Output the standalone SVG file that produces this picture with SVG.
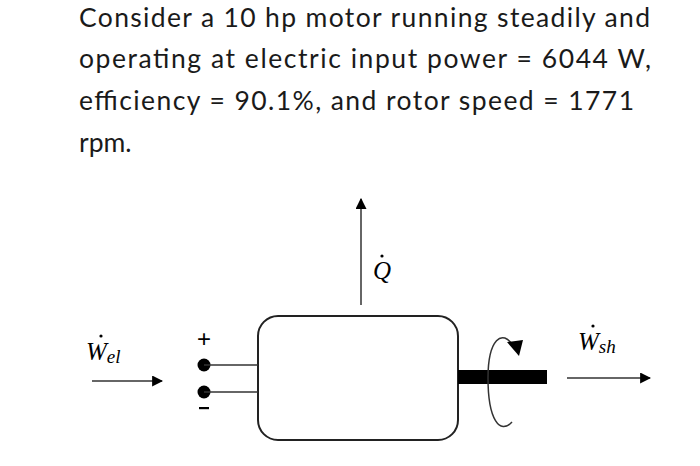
<svg xmlns="http://www.w3.org/2000/svg" width="700" height="466" viewBox="0 0 700 466">
<defs>
<marker id="ah" viewBox="0 0 10 10" refX="9" refY="5" markerWidth="11" markerHeight="11" markerUnits="userSpaceOnUse" orient="auto"><path d="M0,0 L10,5 L0,10 z" fill="#000"/></marker>
<style>
.t{font-family:Lato,"Liberation Sans",sans-serif;font-size:26.5px;fill:#1a1a1a}
.m{font-family:"Liberation Serif",serif;font-style:italic;font-size:25px;fill:#000}
.s{font-family:"Liberation Serif",serif;font-style:italic;font-size:19px}
.ln{stroke:#333;stroke-width:1.5;fill:none}
</style>
</defs>
<rect width="700" height="466" fill="#fff"/>
<g id="question">
<text class="t" x="79" y="27" textLength="571">Consider a 10 hp motor running steadily and</text>
<text class="t" x="79" y="68" textLength="572">operating at electric input power =  6044 W,</text>
<text class="t" x="79" y="110" textLength="555">efficiency = 90.1%, and rotor speed = 1771</text>
<text class="t" x="79" y="152">rpm.</text>
</g>
<g id="motor">
<rect x="258" y="316" width="200" height="124" rx="20" fill="#fff" stroke="#222" stroke-width="2"/>
</g>
<g id="terminals">
<circle cx="204" cy="365" r="6.5" fill="#000"/>
<circle cx="204" cy="392" r="6.5" fill="#000"/>
<text x="204" y="347" text-anchor="middle" font-family="Liberation Sans,sans-serif" font-size="24">+</text>
<rect x="199" y="407" width="10" height="2.2" fill="#000"/>
</g>
<g id="shaft">
<rect x="458" y="370" width="89" height="14" fill="#000"/>
<path d="M514,347 C502,327 488,340 488,378 C488,420 500,435 512,422" class="ln" stroke="#000" stroke-width="2"/>
<path d="M507,342 L519,356 L523,340 z" fill="#000"/>
</g>
<g id="labels">
<text class="m" x="373" y="279">Q</text><circle cx="382" cy="256" r="1.6" fill="#000"/>
<text class="m" x="86" y="360">W<tspan class="s" dy="3">el</tspan></text><circle cx="101" cy="336" r="1.6" fill="#000"/>
<text class="m" x="578" y="350">W<tspan class="s" dy="3">sh</tspan></text><circle cx="593" cy="326" r="1.6" fill="#000"/>
</g>
<g id="connectors">
<line x1="361" y1="305" x2="361" y2="199" class="ln" marker-end="url(#ah)"/>
<line x1="92" y1="381" x2="162" y2="381" class="ln" marker-end="url(#ah)"/>
<line x1="567" y1="378" x2="650" y2="378" class="ln" marker-end="url(#ah)"/>
<line x1="204" y1="365" x2="258" y2="365" class="ln"/>
<line x1="204" y1="392" x2="258" y2="392" class="ln"/>
</g>
</svg>
